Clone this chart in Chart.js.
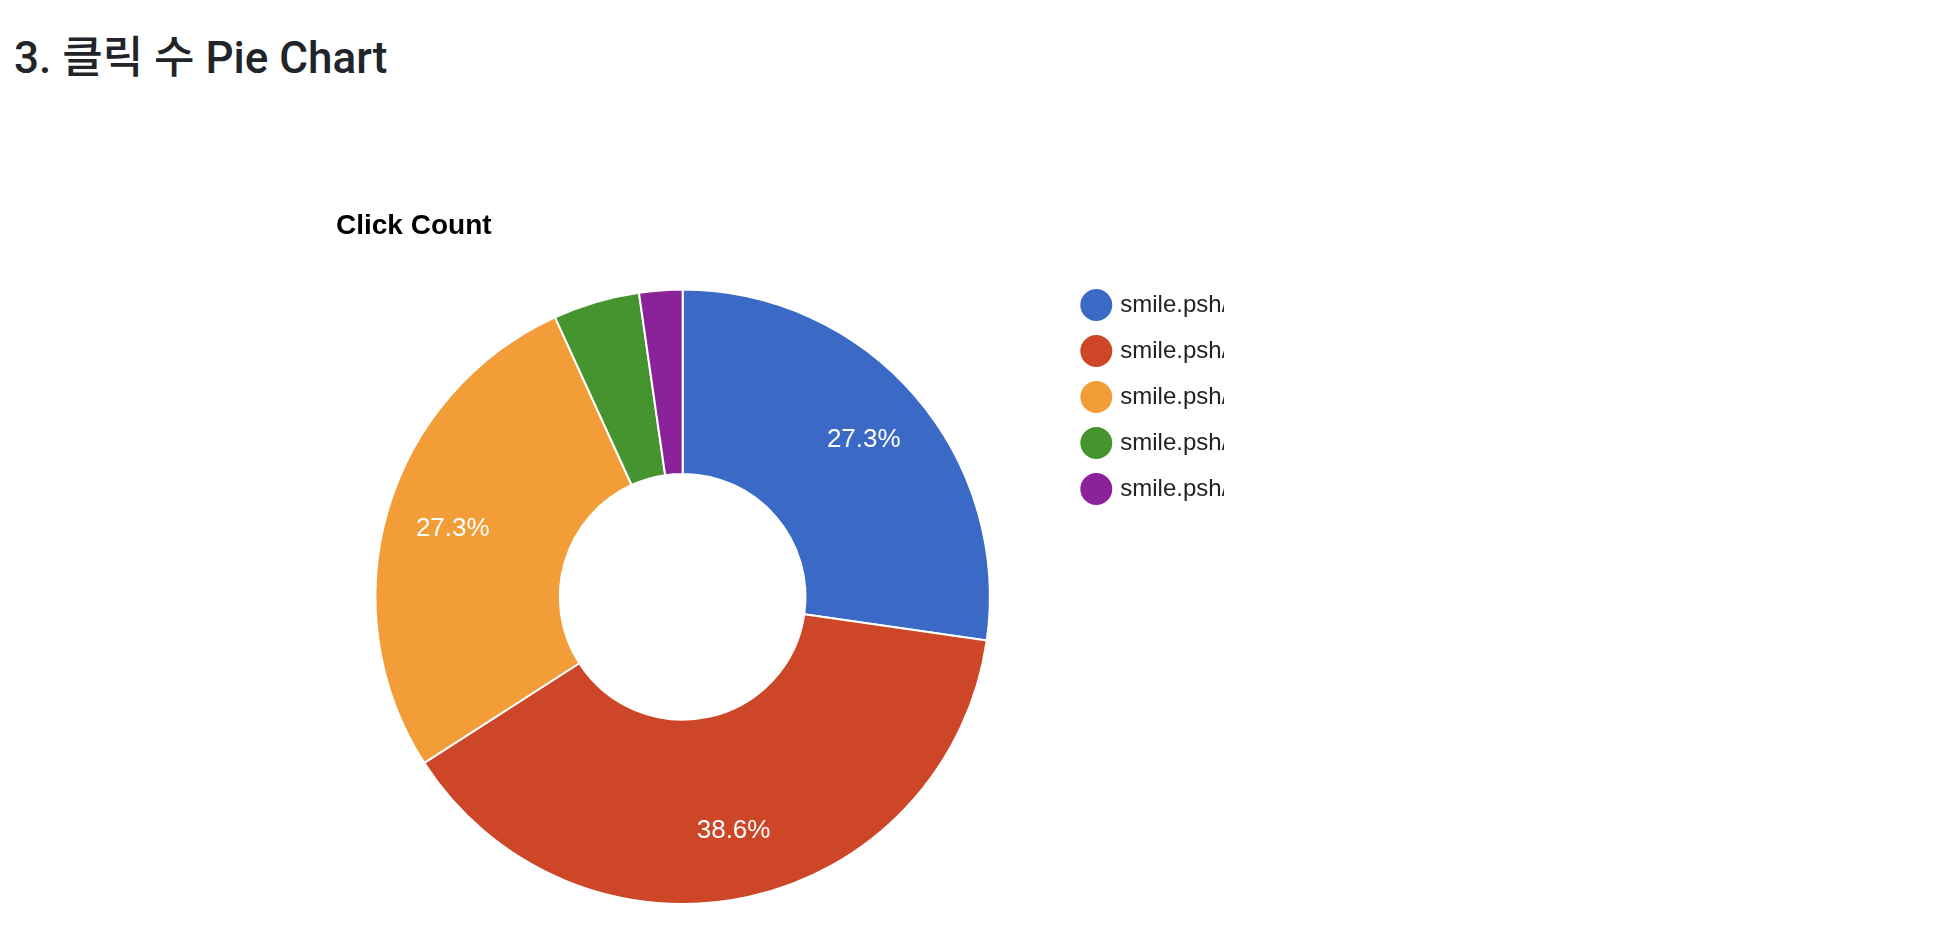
<!DOCTYPE html>
<html><head><meta charset="utf-8">
<script src="https://cdn.jsdelivr.net/npm/chart.js@4"></script>
<style>
body{margin:0;background:#fff;width:1934px;height:952px;overflow:hidden;position:relative;font-family:Roboto,"Noto Sans CJK KR",sans-serif}
h3{position:absolute;left:14px;top:22px;margin:0;font-size:44px;font-weight:500;color:#212529;font-family:Roboto,"Noto Sans CJK KR",sans-serif}
#wrap{position:absolute;left:336px;top:209px;width:1000px;height:700px}
</style></head><body>
<h3>3. 클릭 수 Pie Chart</h3>
<div id="wrap"><canvas id="c"></canvas></div>
<script>
const labels=["smile.psh/B","smile.psh/C","smile.psh/D","smile.psh/E","smile.psh/G"];
const clicks=[12,17,12,2,1];
const colors=["#3b6ac6","#cc4627","#f29d38","#46942f","#8c229a"];
const chartTitle="Click Count";
const pctPlugin={id:'pct',
 afterLayout(chart){const lg=chart.legend;if(lg){lg.left+=33;lg.top+=62;}},
 afterDatasetsDraw(chart){const ctx=chart.ctx;const meta=chart.getDatasetMeta(0);const tot=clicks.reduce((a,b)=>a+b,0);
 ctx.save();ctx.fillStyle="#fff";ctx.font="26px Arial, 'Liberation Sans', sans-serif";ctx.textAlign="center";ctx.textBaseline="middle";
 meta.data.forEach((a,i)=>{const p=clicks[i]/tot;if(p<0.05)return;const ang=(a.startAngle+a.endAngle)/2;const r=0.78*a.outerRadius;
 ctx.fillText((p*100).toFixed(1)+"%",a.x+Math.cos(ang)*r,a.y+Math.sin(ang)*r);});ctx.restore();}};
new Chart(document.getElementById('c'),{type:'doughnut',
 data:{labels,datasets:[{data:clicks,backgroundColor:colors,borderColor:"#fff",borderWidth:2,hoverOffset:0}]},
 options:{responsive:true,maintainAspectRatio:false,animation:false,cutout:'40%',
  layout:{padding:{left:0,right:112,bottom:4}},
  plugins:{tooltip:{enabled:false},
   title:{display:true,text:chartTitle,align:'start',color:'#000',font:{family:"Arial, 'Liberation Sans', sans-serif",size:28,weight:'bold'},padding:{top:0,bottom:46}},
   legend:{position:'right',align:'start',labels:{usePointStyle:true,pointStyle:'circle',boxWidth:27,boxHeight:27,padding:22,color:'#222',font:{family:"Arial, 'Liberation Sans', sans-serif",size:24}}}}},
 plugins:[pctPlugin]});
</script></body></html>
